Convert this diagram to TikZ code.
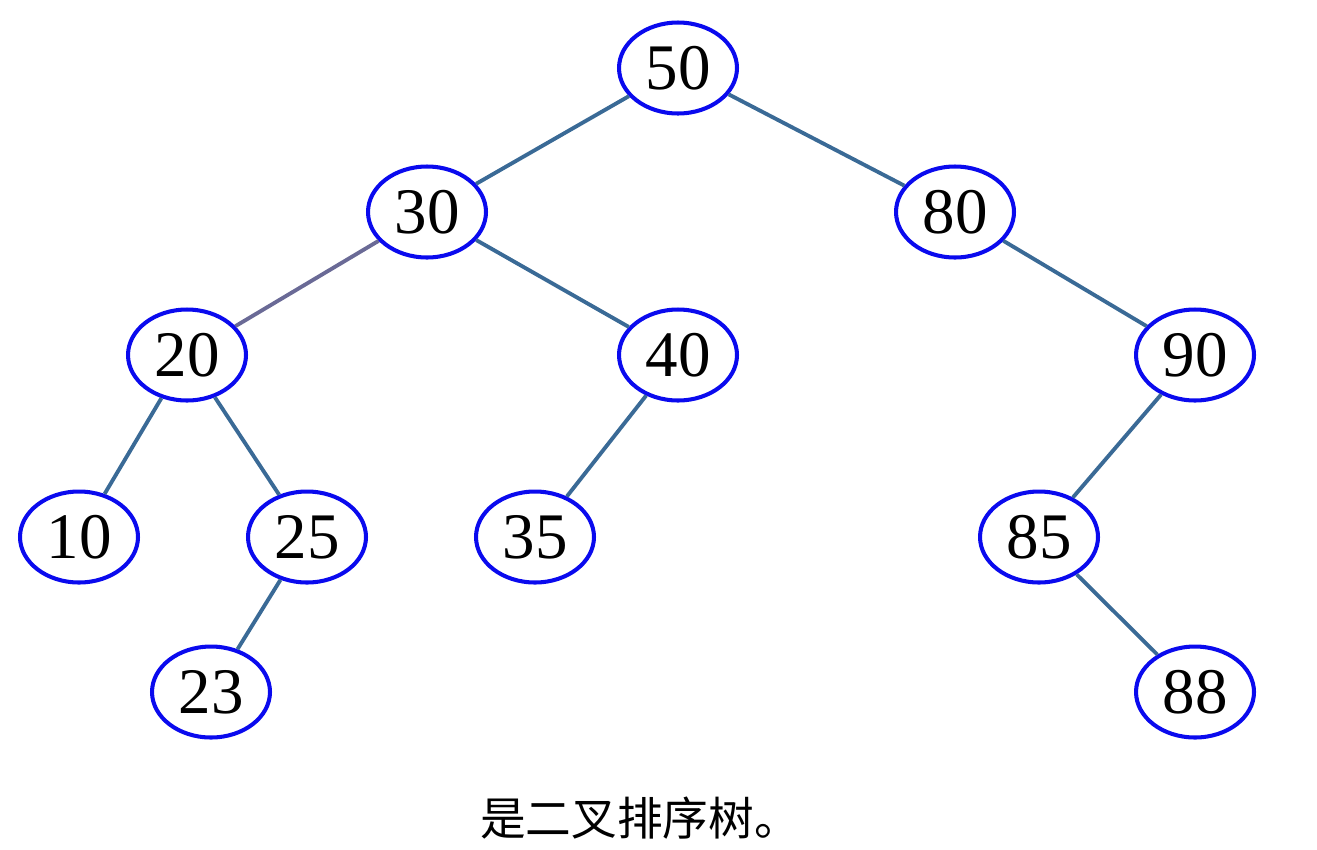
\documentclass[tikz,border=0pt]{standalone}
\usepackage{fontspec}
\setmainfont{Liberation Serif}
\newfontfamily\cjk{Noto Sans CJK SC}
\usetikzlibrary{shapes.geometric}
\definecolor{edgec}{HTML}{3A6A96}
\definecolor{edgep}{HTML}{6A6A96}
\definecolor{nodeb}{HTML}{0A0AEE}
\begin{document}
\begin{tikzpicture}[x=0.02cm,y=-0.02cm,
  tn/.style={ellipse,draw=nodeb,line width=2.3pt,minimum width=2.36cm,minimum height=1.82cm,inner sep=0pt,font=\fontsize{37}{37}\selectfont},
  ed/.style={draw=edgec,line width=2.2pt}]
\useasboundingbox (0,0) rectangle (1317,849);
\node[tn] (n50) at (678,68) {50};
\node[tn] (n30) at (427,212) {30};
\node[tn] (n80) at (955,212) {80};
\node[tn] (n20) at (187,355) {20};
\node[tn] (n40) at (678,355) {40};
\node[tn] (n90) at (1195,355) {90};
\node[tn] (n10) at (79,537) {10};
\node[tn] (n25) at (307,537) {25};
\node[tn] (n35) at (535,537) {35};
\node[tn] (n85) at (1039,537) {85};
\node[tn] (n23) at (211,692) {23};
\node[tn] (n88) at (1195,692) {88};
\draw[ed] (n50) -- (n30);
\draw[ed] (n50) -- (n80);
\draw[ed,draw=edgep] (n30) -- (n20);
\draw[ed] (n30) -- (n40);
\draw[ed] (n80) -- (n90);
\draw[ed] (n20) -- (n10);
\draw[ed] (n20) -- (n25);
\draw[ed] (n40) -- (n35);
\draw[ed] (n90) -- (n85);
\draw[ed] (n25) -- (n23);
\draw[ed] (n85) -- (n88);
\node[font=\cjk\fontsize{26}{26}\selectfont] (cap) at (640,818) {是二叉排序树。};
\end{tikzpicture}
\end{document}
